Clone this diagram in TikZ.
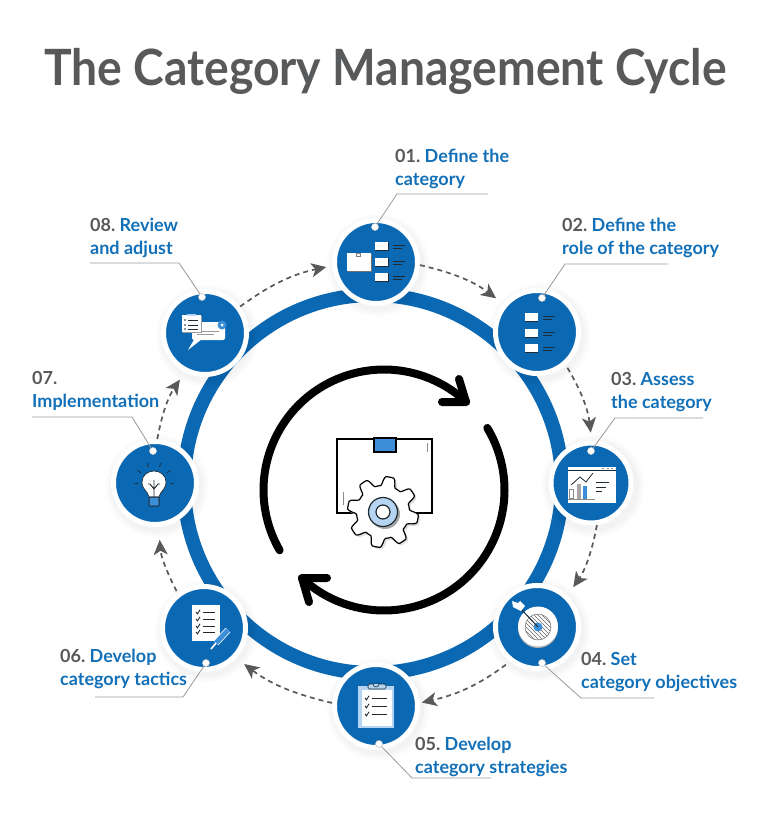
\documentclass[tikz,border=0pt]{standalone}
\usepackage{fontspec}
\setmainfont{Lato}
\usetikzlibrary{arrows.meta}
\definecolor{mainblue}{HTML}{0B68B3}
\definecolor{txtblue}{HTML}{1270B8}
\definecolor{txtgray}{HTML}{58595B}
\definecolor{iconblue}{HTML}{3B8FD9}
\definecolor{paleblue}{HTML}{B5D5F2}
\definecolor{inkdark}{HTML}{1F2A33}
\tikzset{
  x=1pt,y=-1pt,
  disk/.style={circle,fill=mainblue,draw=white,line width=5pt,inner sep=0pt,minimum size=83pt},
  smalldisk/.style={disk,minimum size=80pt},
  pin/.style={circle,fill=white,draw=black!22,line width=.6pt,inner sep=0pt,minimum size=7pt},
  leader/.style={draw=black!40,line width=.8pt},
  flow/.style={draw=txtgray,line width=1.7pt,dash pattern=on 5pt off 4pt,bend left=12,
     -{Stealth[length=15pt,width=14pt,inset=4pt]}},
  lab/.style={anchor=base west,inner sep=0pt,align=left,text=txtblue,
     font=\fontsize{18}{23}\selectfont\bfseries},
  bigarc/.style={draw=black,line width=8pt,line cap=round,line join=round},
  paper/.style={fill=white,draw=none},
  tline/.style={draw=inkdark,line width=.7pt},
  gline/.style={draw=black!45,line width=.7pt},
}
\newcommand{\numtxt}[1]{\textcolor{txtgray}{#1}\hspace{-1.5pt}}
\newcommand{\softshadow}[2]{%
  \foreach \rr/\op in {52/.008,50/.01,48/.012,46/.015}{\fill[black,opacity=\op] (#1+2,#2+3) circle[radius=\rr];}}
\newcommand{\chk}[2]{\draw[inkdark,line width=.9pt] (#1-2,#2) -- (#1-.5,#2+1.8) -- (#1+2,#2-2.2);}
\begin{document}
\begin{tikzpicture}
\useasboundingbox (0,0) rectangle (768,840);
\fill[white] (0,0) rectangle (768,840);
% title
\node[anchor=base west,inner sep=0pt,text=txtgray,font=\fontsize{50}{50}\selectfont\bfseries] (title) at (44,86) {\scalebox{0.925}[1]{The Category Management Cycle}};
% ring
\draw[mainblue,line width=14pt] (373,484) circle[radius=189];
% black cycle arrows
\coordinate (tipa) at (466,402);
\coordinate (tipb) at (302,578);
\draw[bigarc] plot[domain=210:47,samples=80] ({384+120.5*cos(\x)},{490-120.5*sin(\x)});
\draw[bigarc] (459,379) -- (tipa) -- (442,402);
\draw[bigarc] plot[domain=31:-133,samples=80] ({384+120.5*cos(\x)},{490-120.5*sin(\x)});
\draw[bigarc] (327,578) -- (tipb) -- (309,602);
% centre icon
\draw[black,line width=1.5pt,fill=white] (337,439) rectangle (432,513);
\draw[gline] (427,443) -- (427,452);
\draw[gline] (343,492) -- (343,505);
\draw[black,line width=1.5pt,fill=iconblue] (374,438) rectangle (396,452);
\fill[black!12] plot[domain=0:360,samples=145] ({385+(31+4.5*max(-1,min(1,2*sin(8*\x))))*cos(\x)},{514+(31+4.5*max(-1,min(1,2*sin(8*\x))))*sin(\x)}) -- cycle;
\draw[black,line width=1.2pt,fill=white,line join=round] plot[domain=0:360,samples=145] ({383+(31+4.5*max(-1,min(1,2*sin(8*\x))))*cos(\x)},{512+(31+4.5*max(-1,min(1,2*sin(8*\x))))*sin(\x)}) -- cycle;
\fill[black!35] (385,514) circle[radius=15];
\draw[inkdark,line width=1.2pt,fill=paleblue] (383,512) circle[radius=14.5];
\draw[inkdark,line width=1.2pt,fill=white] (383,512) circle[radius=7];
% step discs
\softshadow{376}{262}\softshadow{537}{332}\softshadow{591}{483}\softshadow{537}{627}
\softshadow{376}{706}\softshadow{204}{628}\softshadow{155}{483}\softshadow{205}{333}
\node[disk] (n1) at (376,262) {};
\node[disk] (n2) at (537,332) {};
\node[smalldisk] (n3) at (591,483) {};
\node[disk] (n4) at (537,627) {};
\node[disk] (n5) at (376,706) {};
\node[disk] (n6) at (204,628) {};
\node[disk] (n7) at (155,483) {};
\node[disk] (n8) at (205,333) {};
% dashed flow
\draw[flow,shorten >=9pt] (n1.-4) to (n2.140);
\draw[flow,shorten >=8pt,shorten <=3pt] (n2.-49) to (n3.89);
\draw[flow,shorten >=10pt] (n3.-82) to (n4.46);
\draw[flow,shorten >=2pt,shorten <=5pt] (n4.-128) to (n5.4);
\draw[flow,shorten >=10pt] (n5.176) to (n6.-43.5);
\draw[flow,shorten >=13pt,shorten <=2pt] (n6.127) to (n7.-85);
\draw[flow,shorten >=9pt] (n7.87) to (n8.-117);
\draw[flow,shorten >=6pt] (n8.37) to (n1.185);
% leaders
\coordinate (e1) at (397,194); \coordinate (f1) at (488,194);
\coordinate (e2) at (565,264); \coordinate (f2) at (668,264);
\coordinate (e3) at (615,418); \coordinate (f3) at (703,418);
\coordinate (e4) at (581,698); \coordinate (f4) at (654,698);
\coordinate (e5) at (412,778); \coordinate (f5) at (491,778);
\coordinate (e6) at (183,697); \coordinate (f6) at (95,697);
\coordinate (e7) at (132,417); \coordinate (f7) at (32,417);
\coordinate (e8) at (179,263); \coordinate (f8) at (90,263);
\node[pin] (p1) at (375,227) {};
\node[pin] (p2) at (542,298) {};
\node[pin] (p3) at (591,451) {};
\node[pin] (p4) at (542,663) {};
\node[pin] (p5) at (379,744) {};
\node[pin] (p6) at (206,663) {};
\node[pin] (p7) at (153,451) {};
\node[pin] (p8) at (202,297) {};
\foreach \i in {1,...,8}{\draw[leader] (p\i) -- (e\i) -- (f\i);}
% labels
\node[lab] (l1) at (395,185) {\numtxt{01.} Define the\\category};
\node[lab] (l2) at (562,254) {\numtxt{02.} Define the\\role of the category};
\node[lab] (l3) at (611,408) {\numtxt{03.} Assess\\the category};
\node[lab] (l4) at (581,688) {\numtxt{04.} Set\\category objectives};
\node[lab] (l5) at (415,773) {\numtxt{05.} Develop\\category strategies};
\node[lab] (l6) at (60,685) {\numtxt{06.} Develop\\category tactics};
\node[lab] (l7) at (32,407) {\numtxt{07.}\\Implementation};
\node[lab] (l8) at (90,254) {\numtxt{08.} Review\\and adjust};
% icon 1
\fill[black!55] (348,254) rectangle (372,272);
\fill[paper] (347,253) rectangle (371,271);
\draw[black!50,line width=.5pt] (356,253) rectangle (360,256);
\foreach \yy in {242,258,273}{
  \fill[inkdark] (374.5,\yy-.5) rectangle (388.5,\yy+8.5);
  \fill[paper] (375,\yy) rectangle (388,\yy+7.5);
  \draw[tline] (393,\yy+3) -- (405,\yy+3);
  \draw[tline] (393,\yy+6) -- (402,\yy+6);}
% icon 2
\foreach \yy in {313,329,344}{
  \fill[inkdark] (524.5,\yy-.5) rectangle (538,\yy+8.5);
  \fill[paper] (525,\yy) rectangle (537.5,\yy+7.5);
  \draw[tline] (543,\yy+3) -- (555,\yy+3);
  \draw[tline] (543,\yy+6) -- (552,\yy+6);}
% icon 3
\fill[paper] (568,467) rectangle (616,503);
\draw[inkdark,line width=.8pt] (568,470) -- (616,470);
\foreach \xx in {603,608,612}{\fill[inkdark] (\xx,468.5) circle[radius=.6];}
\draw[gline] (569,489) rectangle (573,498.5);
\fill[black!35] (577,484) rectangle (581,499);
\fill[iconblue] (583,486) rectangle (587,499);
\draw[gline] (568,499) -- (595,499);
\draw[inkdark,line width=.8pt] (571,485) -- (580,477) -- (586,482) -- (593,473);
\draw[tline] (596,482) -- (609,482);
\draw[tline] (596,487) -- (606,487);
\draw[tline] (596,491) -- (602,491);
% icon 4
\fill[black!30] (538,628) circle[radius=20];
\fill[white] (538,626.5) circle[radius=20];
\begin{scope}
\clip (538,627) circle[radius=13];
\foreach \k in {-28,-24,...,28}{\draw[black!60,line width=.7pt] (525+\k,614) -- (551+\k,640);}
\end{scope}
\draw[black!55,line width=.5pt] (538,627) circle[radius=13];
\fill[iconblue] (538,627) circle[radius=4.5];
\draw[inkdark,line width=1pt] (538,627) -- (521,609);
\fill[white] (521,611) -- (513,607) -- (512,601) -- (518,603) -- (520,601) -- (525,606) -- cycle;
% icon 5
\fill[paleblue] (358,686) rectangle (394,728);
\fill[paper] (362,690) rectangle (392,726);
\draw[inkdark,line width=.6pt,fill=paleblue,rounded corners=1.5pt] (368,684) rectangle (386,689);
\draw[inkdark,line width=.6pt,fill=paleblue] (373,684) arc[start angle=180,end angle=0,radius=3];
\foreach \yy in {698,706,714}{\chk{367}{\yy}\draw[tline] (372,\yy+.5) -- (387,\yy+.5);}
% icon 6
\fill[paper] (192,605) rectangle (220,641);
\foreach \yy in {612,619,626,632}{\chk{198}{\yy}\draw[tline] (203,\yy+.5) -- (215,\yy+.5);}
\draw[white,line width=6.5pt] (216,643) -- (228,630);
\draw[iconblue,line width=5pt] (216,643) -- (228,630);
\draw[white,line width=1.6pt] (216,643) -- (211,649);
% icon 7
\foreach \a/\ra/\rb in {35/16/20,70/16/20,110/16/20,145/16/20,185/16/20,-5/16/20}{
  \draw[inkdark,line width=.7pt] ({154+\ra*cos(\a)},{482-\ra*sin(\a)}) -- ({154+\rb*cos(\a)},{482-\rb*sin(\a)});}
\draw[inkdark,line width=.7pt,fill=white] (149,497) .. controls (148,491) and (142,490) .. (142,482) .. controls (142,475) and (148,471) .. (154,471) .. controls (160,471) and (166,475) .. (166,482) .. controls (166,490) and (160,491) .. (159,497) -- cycle;
\draw[inkdark,line width=1pt,fill=iconblue,rounded corners=1pt] (149,497) rectangle (159,506);
\draw[inkdark,line width=.9pt] (154,497) -- (154,480) (154,489) -- (150,484) -- (148,484) (154,489) -- (158,484) -- (160,484);
% icon 8
\fill[paper,rounded corners=2pt] (192,322) rectangle (225,340);
\fill[paper] (195,338) -- (188,350) -- (202,339) -- cycle;
\draw[black!40,line width=.6pt] (197,331) -- (219,331);
\draw[black!40,line width=.6pt] (197,334) -- (214,334);
\fill[black!40] (183,316) rectangle (202,333);
\fill[paper] (182,315) rectangle (201,332);
\fill[paleblue] (187,313.5) rectangle (196,316);
\foreach \yy in {320,325,329}{\fill[inkdark] (185,\yy) circle[radius=.9];\draw[tline] (188,\yy) -- (198,\yy);}
\fill[iconblue] (222,325) circle[radius=4.5];
\fill[white] (222,325) circle[radius=1.5];
\end{tikzpicture}
\end{document}
